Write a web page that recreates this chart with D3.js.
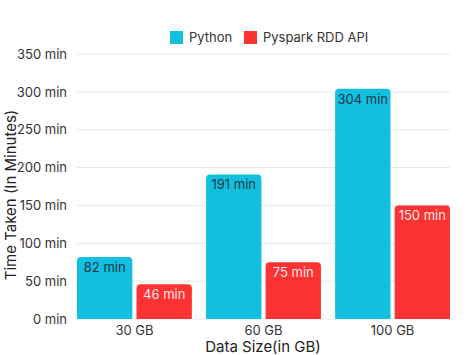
<!DOCTYPE html>
<html>
<head>
<meta charset="utf-8">
<script src="https://cdn.jsdelivr.net/npm/d3@7"></script>
<style>
html,body{margin:0;padding:0;background:#fff;}
svg{display:block;font-family:Inter, "Noto Sans", sans-serif;}
</style>
</head>
<body>
<svg id="chart" width="474" height="355"></svg>
<script>
const categories = ["30 GB", "60 GB", "100 GB"];
const seriesNames = ["Python", "Pyspark RDD API"];
const pythonValues = [82, 191, 304];
const pysparkValues = [46, 75, 150];
const yTicks = [0, 50, 100, 150, 200, 250, 300, 350];
const colors = ["#12bfdf", "#fd3232"];
const labelColors = ["#17364a", "#fde8e8"];

(function () {
const svg = d3.select("#chart");
const mLeft = 77, mRight = 450, mTop = 54, mBottom = 319;

const x0 = d3.scaleBand().domain(categories).range([mLeft, mRight]).paddingInner(0.11).paddingOuter(0);
const x1 = d3.scaleBand().domain(seriesNames).range([0, x0.bandwidth()]).paddingInner(0.07);
const y = d3.scaleLinear().domain([0, 350]).range([mBottom, mTop]);

// gridlines
svg.append("g").selectAll("line").data(yTicks).join("line")
  .attr("x1", mLeft).attr("x2", mRight)
  .attr("y1", d => y(d)).attr("y2", d => y(d))
  .attr("stroke", "#e6e6e6").attr("stroke-width", 1);

// y axis labels
const yAxis = d3.axisLeft(y).tickValues(yTicks).tickSize(0).tickPadding(0).tickFormat(d => d + " min");
const ya = svg.append("g").attr("transform", `translate(${mLeft - 10},0)`).call(yAxis);
ya.select(".domain").remove();
ya.selectAll("text").attr("font-size", 13).attr("fill", "#333").style("font-family", "Inter, 'Noto Sans', sans-serif");

// x axis labels
const xAxis = d3.axisBottom(x0).tickSize(0).tickPadding(0);
const xa = svg.append("g").attr("transform", `translate(0,${mBottom + 7})`).call(xAxis);
xa.select(".domain").remove();
xa.selectAll("text").attr("font-size", 13).attr("fill", "#333").style("font-family", "Inter, 'Noto Sans', sans-serif");

const data = categories.map((c, i) => ({cat: c, vals: [pythonValues[i], pysparkValues[i]]}));

function topRounded(x, yTop, w, h, r) {
  return `M${x},${yTop + h}V${yTop + r}Q${x},${yTop} ${x + r},${yTop}H${x + w - r}Q${x + w},${yTop} ${x + w},${yTop + r}V${yTop + h}Z`;
}

const groups = svg.append("g").selectAll("g").data(data).join("g")
  .attr("transform", d => `translate(${x0(d.cat)},0)`);

groups.selectAll("path").data(d => d.vals.map((v, j) => ({s: seriesNames[j], v, j}))).join("path")
  .attr("d", d => topRounded(x1(d.s), y(d.v), x1.bandwidth(), mBottom - y(d.v), 4))
  .attr("fill", d => colors[d.j]);

groups.selectAll("text").data(d => d.vals.map((v, j) => ({s: seriesNames[j], v, j}))).join("text")
  .attr("x", d => x1(d.s) + x1.bandwidth() / 2)
  .attr("y", d => y(d.v) + 15)
  .attr("text-anchor", "middle")
  .attr("font-size", 13)
  .attr("fill", d => labelColors[d.j])
  .text(d => d.v + " min");

// axis titles
svg.append("text").attr("x", 263).attr("y", 352).attr("text-anchor", "middle")
  .attr("font-size", 15).attr("fill", "#222").text("Data Size(in GB)");
svg.append("text").attr("transform", "translate(16,195) rotate(-90)").attr("text-anchor", "middle")
  .attr("font-size", 15).attr("fill", "#222").text("Time Taken (In Minutes)");

// legend
const legendX = [170, 244];
const lg = svg.append("g").selectAll("g").data(seriesNames).join("g")
  .attr("transform", (d, i) => `translate(${legendX[i]},31)`);
lg.append("rect").attr("width", 13).attr("height", 13).attr("fill", (d, i) => colors[i]);
lg.append("text").attr("x", 19).attr("y", 11).attr("font-size", 13).attr("fill", "#333").text(d => d);
})();
</script>
</body>
</html>
